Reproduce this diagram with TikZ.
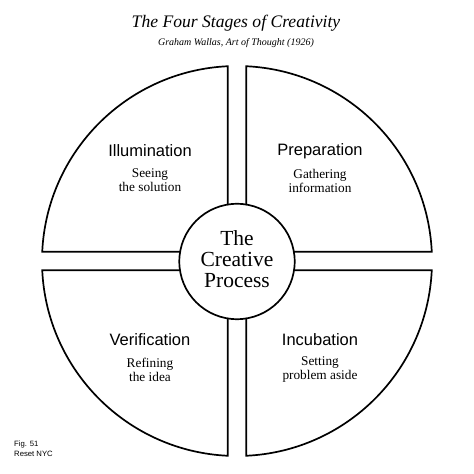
\documentclass[tikz,border=0pt]{standalone}
\usepackage{fontspec}
\setmainfont{Liberation Serif}
\setsansfont{Liberation Sans}
\begin{document}
\begin{tikzpicture}[x=1pt,y=1pt,
  quad/.style={draw=black, line width=1.7pt, fill=white, line join=miter},
  heading/.style={font=\sffamily\fontsize{16.5}{18}\selectfont, inner sep=0pt},
  sublabel/.style={font=\fontsize{13.3}{14}\selectfont, align=center, inner sep=0pt},
  core/.style={circle, draw=black, line width=1.7pt, fill=white, minimum size=115.4pt, inner sep=0pt}]
\useasboundingbox (0,0) rectangle (474,474);
\fill[white] (0,0) rectangle (474,474);
\coordinate (C) at (237,213);
\begin{scope}[shift={(C)}]
  \draw[quad] (9.2,9.2) -- (194.78,9.2) arc[start angle=2.704, end angle=87.296, radius=195] -- cycle;
  \draw[quad] (-9.2,9.2) -- (-9.2,194.78) arc[start angle=92.704, end angle=177.296, radius=195] -- cycle;
  \draw[quad] (-9.2,-9.2) -- (-194.78,-9.2) arc[start angle=182.704, end angle=267.296, radius=195] -- cycle;
  \draw[quad] (9.2,-9.2) -- (9.2,-194.78) arc[start angle=272.704, end angle=357.296, radius=195] -- cycle;
\end{scope}
\node[core] (center) at (237,212.5) {};
\node[font=\fontsize{21.5}{21}\selectfont, align=center, inner sep=0pt] (centertext) at (237,215) {The\\Creative\\Process};

\node[font=\itshape\fontsize{17.6}{20}\selectfont, inner sep=0pt] (title) at (236,451) {The Four Stages of Creativity};
\node[font=\itshape\fontsize{10}{12}\selectfont, inner sep=0pt] (subtitle) at (236,431) {Graham Wallas, Art of Thought (1926)};

\node[heading] (illum) at (150,323) {Illumination};
\node[sublabel] (illumsub) at (150,293.5) {Seeing\\the solution};
\node[heading] (prep) at (320,323) {Preparation};
\node[sublabel] (prepsub) at (320,293.5) {Gathering\\information};
\node[heading] (verif) at (150,134) {Verification};
\node[sublabel] (verifsub) at (150,104) {Refining\\the idea};
\node[heading] (incub) at (320,134) {Incubation};
\node[sublabel] (incubsub) at (320,104) {Setting\\problem aside};

\node[font=\sffamily\fontsize{7.7}{10}\selectfont, align=left, anchor=west, inner sep=0pt] (fig) at (14,25) {Fig. 51\\Reset NYC};
\end{tikzpicture}
\end{document}
